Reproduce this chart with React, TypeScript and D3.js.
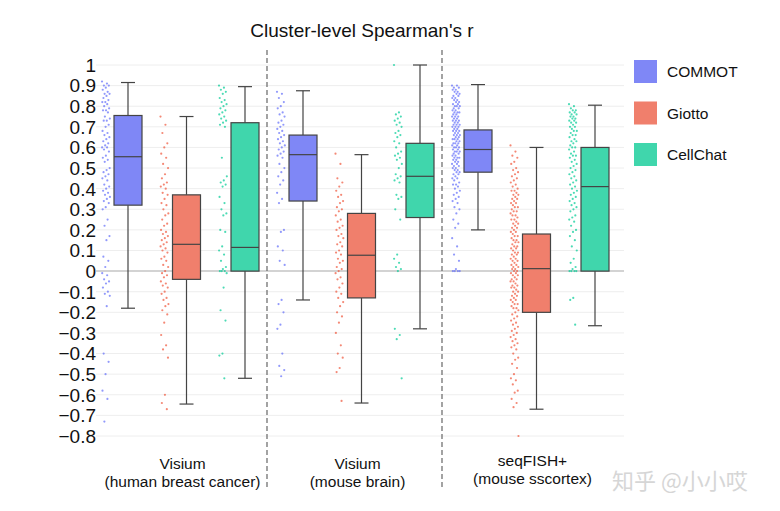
import React from "react";
import * as d3 from "d3";

const groups = ["Visium|(human breast cancer)", "Visium|(mouse brain)", "seqFISH+|(mouse sscortex)"];
const methods = ["COMMOT", "Giotto", "CellChat"];
const boxFill = ["#7F87F6", "#F07F6C", "#40D6AC"];
const pointColor = ["#636EFA", "#EF553B", "#00CC96"];

// [lowerWhisker, q1, median, q3, upperWhisker] per group, per method
const stats = [
  [
    [-0.18, 0.32, 0.555, 0.755, 0.915],
    [-0.645, -0.04, 0.13, 0.37, 0.75],
    [-0.52, 0.0, 0.115, 0.72, 0.895],
  ],
  [
    [-0.14, 0.34, 0.565, 0.66, 0.875],
    [-0.64, -0.13, 0.077, 0.28, 0.565],
    [-0.28, 0.26, 0.46, 0.62, 1.0],
  ],
  [
    [0.2, 0.48, 0.59, 0.685, 0.905],
    [-0.67, -0.2, 0.012, 0.18, 0.6],
    [-0.265, 0.0, 0.41, 0.6, 0.805],
  ],
];

const bcCommot = [0.92,0.91,0.9,0.9,0.89,0.88,0.87,0.86,0.86,0.85,0.84,0.83,0.82,0.82,0.81,0.8,0.79,0.78,0.78,0.77,0.75,0.74,0.73,0.73,0.71,0.7,0.68,0.67,0.66,0.65,0.64,0.63,0.62,0.61,0.6,0.6,0.59,0.58,0.56,0.55,0.54,0.53,0.5,0.49,0.48,0.47,0.46,0.45,0.44,0.42,0.41,0.4,0.39,0.38,0.37,0.36,0.35,0.34,0.33,0.31,0.3,0.25,0.22,0.17,0.15,0.07,0.05,0.02,-0.01,-0.02,-0.04,-0.05,-0.06,-0.08,-0.1,-0.11,-0.12,-0.17,-0.4,-0.44,-0.5,-0.58,-0.62,-0.73];
const bcGiotto = [0.75,0.71,0.67,0.62,0.6,0.57,0.55,0.52,0.5,0.47,0.45,0.43,0.42,0.41,0.4,0.38,0.37,0.35,0.33,0.32,0.3,0.28,0.27,0.25,0.23,0.22,0.2,0.19,0.18,0.17,0.16,0.15,0.14,0.13,0.12,0.11,0.1,0.09,0.07,0.06,0.05,0.03,0.02,0.0,-0.01,-0.02,-0.03,-0.05,-0.06,-0.07,-0.08,-0.1,-0.11,-0.13,-0.14,-0.16,-0.17,-0.19,-0.21,-0.25,-0.31,-0.36,-0.38,-0.42,-0.6,-0.64,-0.67];
const bcCellChat = [0.9,0.89,0.88,0.87,0.86,0.84,0.83,0.82,0.81,0.8,0.79,0.78,0.77,0.76,0.75,0.74,0.73,0.72,0.71,0.7,0.55,0.46,0.44,0.43,0.42,0.41,0.36,0.33,0.3,0.28,0.27,0.2,0.19,0.12,0.1,0.08,0.05,0.02,0.01,0.0,0.0,0.0,-0.01,-0.08,-0.19,-0.24,-0.4,-0.41,-0.52];

const mbCommot = [0.87,0.86,0.84,0.82,0.8,0.79,0.77,0.76,0.75,0.73,0.72,0.71,0.7,0.69,0.68,0.67,0.66,0.65,0.64,0.63,0.62,0.61,0.6,0.59,0.58,0.57,0.56,0.55,0.52,0.5,0.48,0.46,0.44,0.42,0.38,0.35,0.33,0.2,0.19,0.12,0.1,0.05,0.03,-0.14,-0.16,-0.2,-0.26,-0.28,-0.4,-0.46,-0.48,-0.51];
const mbGiotto = [0.57,0.52,0.45,0.43,0.41,0.39,0.37,0.36,0.34,0.33,0.31,0.3,0.29,0.27,0.25,0.24,0.22,0.21,0.2,0.18,0.17,0.16,0.14,0.13,0.12,0.1,0.09,0.08,0.06,0.05,0.04,0.02,0.01,0.0,-0.01,-0.03,-0.04,-0.06,-0.08,-0.1,-0.11,-0.13,-0.15,-0.17,-0.2,-0.22,-0.25,-0.3,-0.36,-0.4,-0.42,-0.47,-0.49,-0.63];
const mbCellChat = [1.0,0.77,0.76,0.75,0.74,0.73,0.72,0.71,0.7,0.68,0.67,0.66,0.65,0.63,0.62,0.6,0.58,0.57,0.56,0.55,0.54,0.52,0.5,0.47,0.46,0.45,0.44,0.43,0.37,0.36,0.35,0.3,0.25,0.08,0.06,0.04,0.02,0.01,0.0,-0.28,-0.31,-0.33,-0.52];

const sfCommot = [0.9,0.9,0.89,0.89,0.88,0.88,0.87,0.87,0.86,0.86,0.85,0.85,0.84,0.84,0.83,0.83,0.82,0.82,0.81,0.81,0.8,0.8,0.8,0.79,0.79,0.78,0.78,0.77,0.77,0.77,0.76,0.76,0.75,0.75,0.75,0.74,0.74,0.73,0.73,0.73,0.72,0.72,0.71,0.71,0.71,0.7,0.7,0.7,0.69,0.69,0.68,0.68,0.68,0.67,0.67,0.66,0.66,0.66,0.65,0.65,0.64,0.64,0.64,0.63,0.63,0.62,0.62,0.62,0.61,0.61,0.6,0.6,0.6,0.59,0.59,0.58,0.58,0.58,0.57,0.57,0.56,0.56,0.55,0.55,0.55,0.54,0.54,0.53,0.53,0.52,0.52,0.51,0.51,0.5,0.5,0.49,0.49,0.48,0.48,0.47,0.47,0.46,0.45,0.45,0.44,0.43,0.42,0.42,0.41,0.4,0.39,0.38,0.37,0.36,0.35,0.34,0.33,0.31,0.3,0.28,0.25,0.23,0.21,0.16,0.12,0.08,0.05,0.01,0.0,0.0,0.0,0.0];
const sfGiotto = [0.61,0.58,0.56,0.55,0.53,0.52,0.5,0.49,0.48,0.47,0.46,0.45,0.44,0.43,0.42,0.41,0.4,0.39,0.39,0.38,0.37,0.37,0.36,0.35,0.35,0.34,0.33,0.33,0.32,0.31,0.31,0.3,0.29,0.29,0.28,0.27,0.27,0.26,0.25,0.25,0.24,0.23,0.23,0.22,0.21,0.21,0.2,0.19,0.19,0.18,0.17,0.17,0.16,0.15,0.15,0.14,0.14,0.13,0.12,0.12,0.11,0.11,0.1,0.09,0.09,0.08,0.08,0.07,0.06,0.06,0.05,0.05,0.04,0.03,0.03,0.02,0.02,0.01,0.01,0.0,0.0,-0.01,-0.01,-0.02,-0.02,-0.03,-0.04,-0.04,-0.05,-0.05,-0.06,-0.07,-0.07,-0.08,-0.08,-0.09,-0.1,-0.1,-0.11,-0.12,-0.12,-0.13,-0.14,-0.14,-0.15,-0.16,-0.16,-0.17,-0.18,-0.18,-0.19,-0.2,-0.21,-0.22,-0.23,-0.24,-0.25,-0.26,-0.27,-0.28,-0.29,-0.3,-0.31,-0.32,-0.33,-0.34,-0.35,-0.36,-0.37,-0.38,-0.4,-0.42,-0.43,-0.45,-0.47,-0.5,-0.52,-0.53,-0.55,-0.58,-0.59,-0.62,-0.64,-0.66,-0.8];
const sfCellChat = [0.81,0.8,0.79,0.78,0.78,0.77,0.77,0.76,0.76,0.75,0.75,0.74,0.74,0.73,0.73,0.72,0.72,0.71,0.7,0.7,0.69,0.68,0.68,0.67,0.66,0.66,0.65,0.64,0.63,0.63,0.62,0.61,0.6,0.6,0.59,0.58,0.57,0.56,0.56,0.55,0.54,0.53,0.52,0.51,0.5,0.49,0.48,0.47,0.46,0.45,0.44,0.43,0.42,0.41,0.4,0.39,0.38,0.37,0.36,0.35,0.34,0.33,0.32,0.31,0.3,0.29,0.27,0.26,0.25,0.24,0.22,0.2,0.19,0.17,0.15,0.12,0.1,0.06,0.04,0.02,0.01,0.0,0.0,0.0,0.0,-0.13,-0.14,-0.26];

const points = [
  [bcCommot, bcGiotto, bcCellChat],
  [mbCommot, mbGiotto, mbCellChat],
  [sfCommot, sfGiotto, sfCellChat],
];

const yTicks = d3.range(-8, 11).map((d) => d / 10);

const W = 780;
const H = 511;
const font = "'Liberation Sans', Arial, Helvetica, sans-serif";

export default function App() {
  const x = d3.scaleBand().domain(groups).range([93, 618]);
  const xm = d3.scalePoint().domain(methods).range([35, 152]);
  const y = d3.scaleLinear().domain([-0.8, 1]).range([436, 65]);
  const boxW = 28;
  const capW = 14;
  const ptOffset = -22;
  const fmt = (v: number) => (v < 0 ? "\u2212" + d3.format("")(Math.abs(v)) : d3.format("")(v));

  return (
    <svg
      width={W}
      height={H}
      style={{ position: "absolute", left: 0, top: 0, background: "#fff" }}
      fontFamily={font}
    >
      {/* grid */}
      {yTicks.map((t) => (
        <line
          key={"g" + t}
          x1={96}
          x2={624}
          y1={y(t)}
          y2={y(t)}
          stroke={t === 0 ? "#c4c4c4" : "#eeeeee"}
          strokeWidth={t === 0 ? 1.5 : 1}
        />
      ))}
      {/* y tick labels */}
      {yTicks.map((t) => (
        <text key={"t" + t} x={96} y={y(t)} dy="0.36em" textAnchor="end" fontSize={19} fill="#111">
          {fmt(t)}
        </text>
      ))}
      {/* separators */}
      {groups.slice(1).map((g) => (
        <line
          key={"s" + g}
          x1={x(g)! - 1}
          x2={x(g)! - 1}
          y1={50}
          y2={490}
          stroke="#666"
          strokeWidth={1.2}
          strokeDasharray="5,3"
        />
      ))}
      {/* boxes and points */}
      {groups.map((g, gi) =>
        methods.map((m, mi) => {
          const cx = x(g)! + xm(m)!;
          const [lo, q1, med, q3, hi] = stats[gi][mi];
          const vals = points[gi][mi];
          return (
            <g key={g + m}>
              {vals.map((v, i) => {
                const jit = (((i * 0.6180339) % 1) - 0.5) * 8;
                return (
                  <circle
                    key={i}
                    cx={cx + ptOffset + jit}
                    cy={y(v)}
                    r={1.1}
                    fill={pointColor[mi]}
                    opacity={0.7}
                  />
                );
              })}
              <line x1={cx} x2={cx} y1={y(hi)} y2={y(q3)} stroke="#444" strokeWidth={1.2} />
              <line x1={cx} x2={cx} y1={y(q1)} y2={y(lo)} stroke="#444" strokeWidth={1.2} />
              <line x1={cx - capW / 2} x2={cx + capW / 2} y1={y(hi)} y2={y(hi)} stroke="#444" strokeWidth={1.2} />
              <line x1={cx - capW / 2} x2={cx + capW / 2} y1={y(lo)} y2={y(lo)} stroke="#444" strokeWidth={1.2} />
              <rect
                x={cx - boxW / 2}
                y={y(q3)}
                width={boxW}
                height={y(q1) - y(q3)}
                fill={boxFill[mi]}
                stroke="#444"
                strokeWidth={1.2}
              />
              <line x1={cx - boxW / 2} x2={cx + boxW / 2} y1={y(med)} y2={y(med)} stroke="#444" strokeWidth={1.2} />
            </g>
          );
        })
      )}
      {/* x labels */}
      {groups.map((g, gi) => {
        const [l1, l2] = g.split("|");
        const cx = x(g)! + x.bandwidth() / 2 + 2;
        const base = gi === 2 ? 466 : 469;
        return (
          <text key={"x" + g} x={cx} textAnchor="middle" fontSize={15.5} fill="#111">
            <tspan x={cx} y={base}>{l1}</tspan>
            <tspan x={cx} y={base + 18}>{l2}</tspan>
          </text>
        );
      })}
      {/* title */}
      <text x={362} y={37} textAnchor="middle" fontSize={19} fill="#111">
        Cluster-level Spearman's r
      </text>
      {/* legend */}
      {methods.map((m, mi) => (
        <g key={"l" + m} transform={`translate(634, ${60 + mi * 41.5})`}>
          <rect width={23} height={23} fill={boxFill[mi]} />
          <text x={33} y={17} fontSize={15.5} fill="#111">
            {m}
          </text>
        </g>
      ))}
      {/* watermark */}
      <text x={612} y={489} fontSize={22} fill="#d6d6d6" fontFamily="'Noto Sans CJK SC', sans-serif">
        知乎 @小小哎
      </text>
    </svg>
  );
}
